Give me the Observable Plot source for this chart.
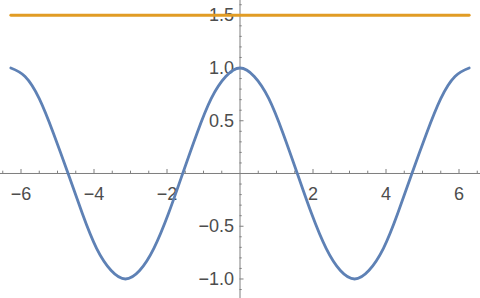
<!DOCTYPE html>
<html>
<head>
<meta charset="utf-8">
<script src="https://cdn.jsdelivr.net/npm/d3@7"></script>
<script src="https://cdn.jsdelivr.net/npm/@observablehq/plot@0.6"></script>
<style>
  html, body { margin: 0; padding: 0; background: #ffffff; }
  #chart svg { display: block; }
</style>
</head>
<body>
<div id="chart"></div>
<script>
const curveX = [-6.28, -5.89, -5.50, -5.11, -4.71, -4.32, -3.93, -3.53, -3.14, -2.75, -2.36, -1.96, -1.57, -1.18, -0.79, -0.39, 0, 0.39, 0.79, 1.18, 1.57, 1.96, 2.36, 2.75, 3.14, 3.53, 3.93, 4.32, 4.71, 5.11, 5.50, 5.89, 6.28];
const curveY = [1, 0.92, 0.71, 0.38, 0, -0.38, -0.71, -0.92, -1, -0.92, -0.71, -0.38, 0, 0.38, 0.71, 0.92, 1, 0.92, 0.71, 0.38, 0, -0.38, -0.71, -0.92, -1, -0.92, -0.71, -0.38, 0, 0.38, 0.71, 0.92, 1];
// Orange horizontal line
const lineX = [-6.28, 6.28];
const lineY = [1.5, 1.5];
// Ticks
const xMajorTicks = [-6, -4, -2, 2, 4, 6];
const xMinorTicks = [-6.5, -5.5, -5, -4.5, -3.5, -3, -2.5, -1.5, -1, -0.5, 0.5, 1, 1.5, 2.5, 3, 3.5, 4.5, 5, 5.5, 6.5];
const yMajorTicks = [-1, -0.5, 0.5, 1, 1.5];
const yMinorTicks = [-1.1, -0.9, -0.8, -0.7, -0.6, -0.4, -0.3, -0.2, -0.1, 0.1, 0.2, 0.3, 0.4, 0.6, 0.7, 0.8, 0.9, 1.1, 1.2, 1.3, 1.4, 1.6];

const curve = curveX.map((x, i) => ({x, y: curveY[i]}));
const flat = lineX.map((x, i) => ({x, y: lineY[i]}));

const blue = "#5E81B5";
const orange = "#E19C24";
const axisColor = "#7f7f7f";
const textColor = "#4d4d4d";
const fmtX = d3.format("d");
const fmtY = d3.format(".1f");

const chart = Plot.plot({
  width: 480,
  height: 298,
  margin: 0,
  style: {background: "#ffffff", fontFamily: "'Liberation Sans', Arial, sans-serif", overflow: "visible"},
  x: {domain: [-6.562, 6.589], axis: null},
  y: {domain: [-1.185, 1.640], axis: null},
  marks: [
    Plot.ruleY([0], {stroke: axisColor, strokeWidth: 1}),
    Plot.ruleX([0], {stroke: axisColor, strokeWidth: 1}),
    // x-axis ticks (upward)
    Plot.ruleX(xMajorTicks, {x: d => d, y1: 0, y2: 0.038, stroke: axisColor}),
    Plot.ruleX(xMinorTicks, {x: d => d, y1: 0, y2: 0.022, stroke: axisColor}),
    // y-axis ticks (rightward)
    Plot.ruleY(yMajorTicks, {y: d => d, x1: 0, x2: 0.11, stroke: axisColor}),
    Plot.ruleY(yMinorTicks, {y: d => d, x1: 0, x2: 0.06, stroke: axisColor}),
    // tick labels
    Plot.text(xMajorTicks, {x: d => d, y: 0, dy: 21, text: d => fmtX(d), fill: textColor, fontSize: 18}),
    Plot.text(yMajorTicks, {x: 0, y: d => d, dx: -6, textAnchor: "end", text: d => fmtY(d), fill: textColor, fontSize: 18}),
    // data
    Plot.line(flat, {x: "x", y: "y", stroke: orange, strokeWidth: 2.8}),
    Plot.line(curve, {x: "x", y: "y", stroke: blue, strokeWidth: 2.8, curve: "natural"})
  ]
});
document.getElementById("chart").appendChild(chart);
</script>
</body>
</html>
